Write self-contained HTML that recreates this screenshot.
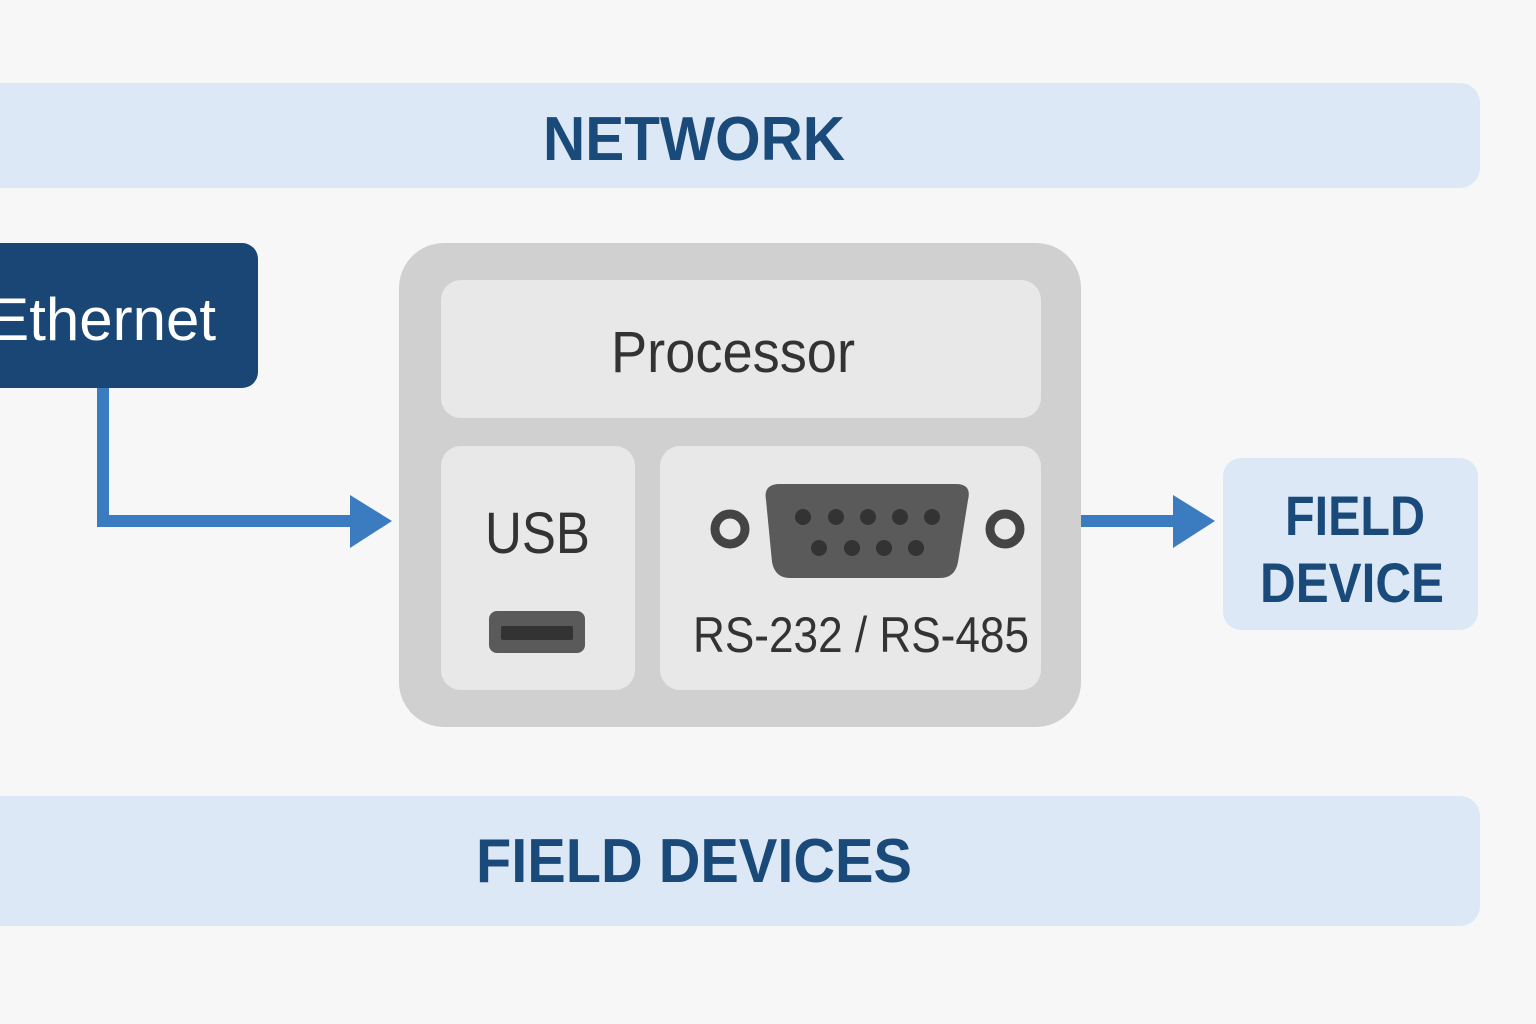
<!DOCTYPE html>
<html><head><meta charset="utf-8"><style>
html,body{margin:0;padding:0;background:#f7f7f7;}
svg{display:block}
text{font-family:"Liberation Sans",sans-serif;}
</style></head><body>
<svg width="1536" height="1024" viewBox="0 0 1536 1024" xmlns="http://www.w3.org/2000/svg">
<rect width="1536" height="1024" fill="#f7f7f7"/>
<rect x="-30" y="83" width="1510" height="105" rx="20" fill="#dce8f5"/>
<text x="543" y="160" font-size="62" font-weight="bold" fill="#1a4a7a" textLength="302" lengthAdjust="spacingAndGlyphs">NETWORK</text>
<rect x="-30" y="796" width="1510" height="130" rx="20" fill="#dce8f5"/>
<text x="476" y="882" font-size="62" font-weight="bold" fill="#1a4a7a" textLength="436" lengthAdjust="spacingAndGlyphs">FIELD DEVICES</text>
<rect x="-40" y="243" width="298" height="145" rx="16" fill="#1a4676"/>
<text x="216" y="340" text-anchor="end" font-size="60" fill="#fff">Ethernet</text>
<polyline points="103,388 103,521 355,521" fill="none" stroke="#3b7bbf" stroke-width="12"/>
<polygon points="350,495 392,521 350,548" fill="#3b7bbf"/>
<rect x="399" y="243" width="682" height="484" rx="45" fill="#d0d0d0"/>
<rect x="441" y="280" width="600" height="138" rx="20" fill="#e8e8e8"/>
<text x="611" y="372" font-size="58" fill="#333" textLength="244" lengthAdjust="spacingAndGlyphs">Processor</text>
<rect x="441" y="446" width="194" height="244" rx="20" fill="#e8e8e8"/>
<text x="485" y="553" font-size="58" fill="#333" textLength="105" lengthAdjust="spacingAndGlyphs">USB</text>
<rect x="489" y="611" width="96" height="42" rx="8" fill="#5a5a5a"/>
<rect x="501" y="626" width="72" height="14" rx="2" fill="#333"/>
<rect x="660" y="446" width="381" height="244" rx="20" fill="#e8e8e8"/>
<path d="M780,484 H956 Q972,484 968,500 L958,562 Q955,578 940,578 H790 Q775,578 772,562 L766,500 Q763,484 780,484 Z" fill="#5a5a5a"/>
<g fill="#333">
<circle cx="803" cy="517" r="8"/><circle cx="836" cy="517" r="8"/><circle cx="868" cy="517" r="8"/><circle cx="900" cy="517" r="8"/><circle cx="932" cy="517" r="8"/>
<circle cx="819" cy="548" r="8"/><circle cx="852" cy="548" r="8"/><circle cx="884" cy="548" r="8"/><circle cx="916" cy="548" r="8"/>
</g>
<circle cx="730" cy="529" r="15" fill="none" stroke="#444" stroke-width="9"/>
<circle cx="1005" cy="529" r="15" fill="none" stroke="#444" stroke-width="9"/>
<text x="693" y="652" font-size="50" fill="#333" textLength="336" lengthAdjust="spacingAndGlyphs">RS-232 / RS-485</text>
<line x1="1081" y1="521" x2="1178" y2="521" stroke="#3b7bbf" stroke-width="12"/>
<polygon points="1173,495 1215,521 1173,548" fill="#3b7bbf"/>
<rect x="1223" y="458" width="255" height="172" rx="18" fill="#dce8f5"/>
<text x="1285" y="535" font-size="56" font-weight="bold" fill="#1a4a7a" textLength="140" lengthAdjust="spacingAndGlyphs">FIELD</text>
<text x="1260" y="602" font-size="56" font-weight="bold" fill="#1a4a7a" textLength="184" lengthAdjust="spacingAndGlyphs">DEVICE</text>
</svg>
</body></html>
